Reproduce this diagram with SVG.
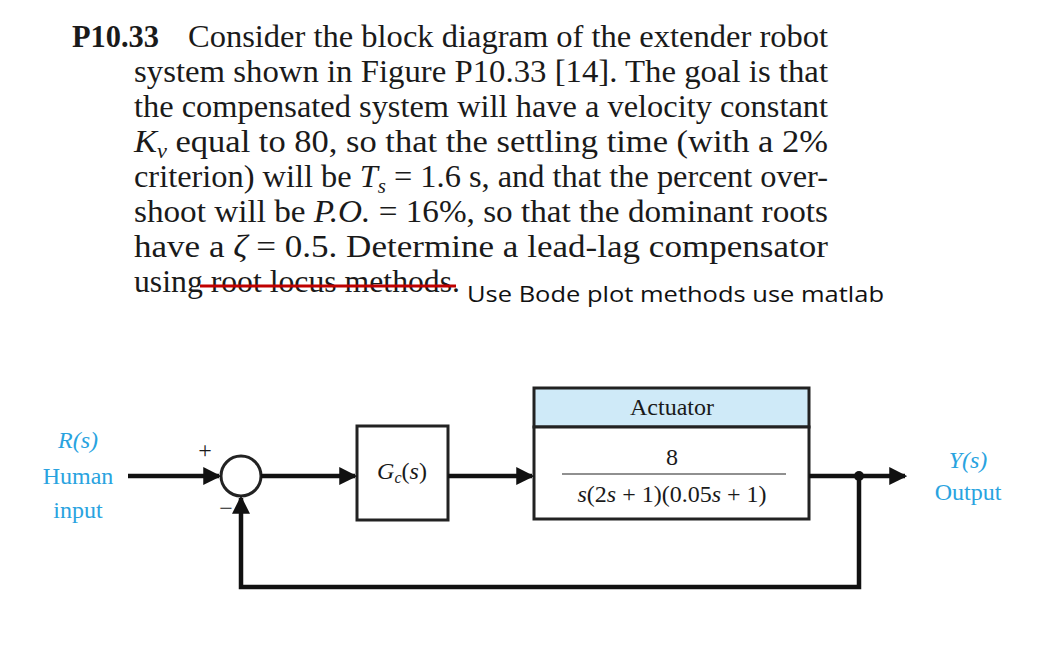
<svg xmlns="http://www.w3.org/2000/svg" width="1047" height="645" viewBox="0 0 1047 645">
<style>
.t{font-family:"Liberation Serif",serif;font-size:31px;fill:#1a1a1a}
.d{font-family:"Liberation Serif",serif;font-size:24px;fill:#1a1a1a}
.l{font-family:"Liberation Serif",serif;font-size:24px;fill:#29a3df}
.w{fill:none;stroke:#111;stroke-width:4.5}
.b{fill:#fff;stroke:#222;stroke-width:3}
</style>
<defs><marker id="a" markerWidth="4" markerHeight="4" refX="3.5" refY="2" orient="auto" markerUnits="strokeWidth"><path d="M0,0L4,2L0,4z" fill="#111"/></marker></defs>
<rect width="1047" height="645" fill="#fff"/>
<g id="problem">
<text class="t" x="72" y="47" font-weight="bold" textLength="87" lengthAdjust="spacingAndGlyphs">P10.33</text>
<text class="t" x="188" y="47" textLength="640" lengthAdjust="spacingAndGlyphs">Consider the block diagram of the extender robot</text>
<text class="t" x="134" y="82" textLength="694" lengthAdjust="spacingAndGlyphs">system shown in Figure P10.33 [14]. The goal is that</text>
<text class="t" x="134" y="117" textLength="694" lengthAdjust="spacingAndGlyphs">the compensated system will have a velocity constant</text>
<text class="t" x="134" y="152" textLength="694" lengthAdjust="spacingAndGlyphs"><tspan font-style="italic">K</tspan><tspan font-style="italic" font-size="20" dy="6">v</tspan><tspan dy="-6"> equal to 80, so that the settling time (with a 2%</tspan></text>
<text class="t" x="134" y="187" textLength="694" lengthAdjust="spacingAndGlyphs">criterion) will be <tspan font-style="italic">T</tspan><tspan font-style="italic" font-size="20" dy="6">s</tspan><tspan dy="-6"> = 1.6 s, and that the percent over-</tspan></text>
<text class="t" x="134" y="222" textLength="694" lengthAdjust="spacingAndGlyphs">shoot will be <tspan font-style="italic">P.O.</tspan> = 16%, so that the dominant roots</text>
<text class="t" x="134" y="257" textLength="694" lengthAdjust="spacingAndGlyphs">have a <tspan font-style="italic">ζ</tspan> = 0.5. Determine a lead-lag compensator</text>
<text class="t" x="134" y="292" textLength="326" lengthAdjust="spacingAndGlyphs">using root locus methods.</text>
<line x1="200" y1="286" x2="456" y2="286" stroke="#c00000" stroke-width="3"/>
<text x="467" y="302" style="font-family:'Open Sans',sans-serif;font-size:22px;fill:#111" textLength="417" lengthAdjust="spacingAndGlyphs">Use Bode plot methods use matlab</text>
</g>
<g id="input"><text class="l" x="78" y="448" text-anchor="middle" font-style="italic">R(s)</text><text class="l" x="78" y="484" text-anchor="middle">Human</text><text class="l" x="78" y="518" text-anchor="middle">input</text></g>
<g id="sum"><circle cx="241" cy="476" r="20" class="b" stroke-width="2"/><text class="d" x="205" y="458" text-anchor="middle">+</text><text class="d" x="226" y="516" text-anchor="middle">−</text></g>
<g id="gc"><rect x="357" y="426" width="91" height="94" class="b"/><text class="d" x="402" y="479" text-anchor="middle" font-style="italic">G<tspan font-size="16" dy="4">c</tspan><tspan dy="-4" font-style="normal">(</tspan>s<tspan font-style="normal">)</tspan></text></g>
<g id="actuator"><rect x="534" y="388" width="275" height="39" fill="#cfeaf8" stroke="#222" stroke-width="3"/><text class="d" x="672" y="415" text-anchor="middle">Actuator</text>
<rect x="534" y="427" width="275" height="92" class="b"/><text class="d" x="672" y="465" text-anchor="middle">8</text><line x1="562" y1="474" x2="786" y2="474" stroke="#222" stroke-width="1.2"/><text class="d" x="672" y="502" text-anchor="middle"><tspan font-style="italic">s</tspan>(2<tspan font-style="italic">s</tspan> + 1)(0.05<tspan font-style="italic">s</tspan> + 1)</text></g>
<g id="output"><text class="l" x="968" y="468" text-anchor="middle" font-style="italic">Y(s)</text><text class="l" x="968" y="500" text-anchor="middle">Output</text></g>
<g id="connectors">
<line x1="128" y1="476" x2="219" y2="476" class="w" marker-end="url(#a)"/>
<line x1="261" y1="476" x2="355" y2="476" class="w" marker-end="url(#a)"/>
<line x1="448" y1="476" x2="532" y2="476" class="w" marker-end="url(#a)"/>
<line x1="809" y1="476" x2="905" y2="476" class="w" marker-end="url(#a)"/>
<polyline points="859,476 859,587 241,587 241,498" class="w" marker-end="url(#a)"/>
<circle cx="859" cy="476" r="5" fill="#111"/>
</g>
</svg>
